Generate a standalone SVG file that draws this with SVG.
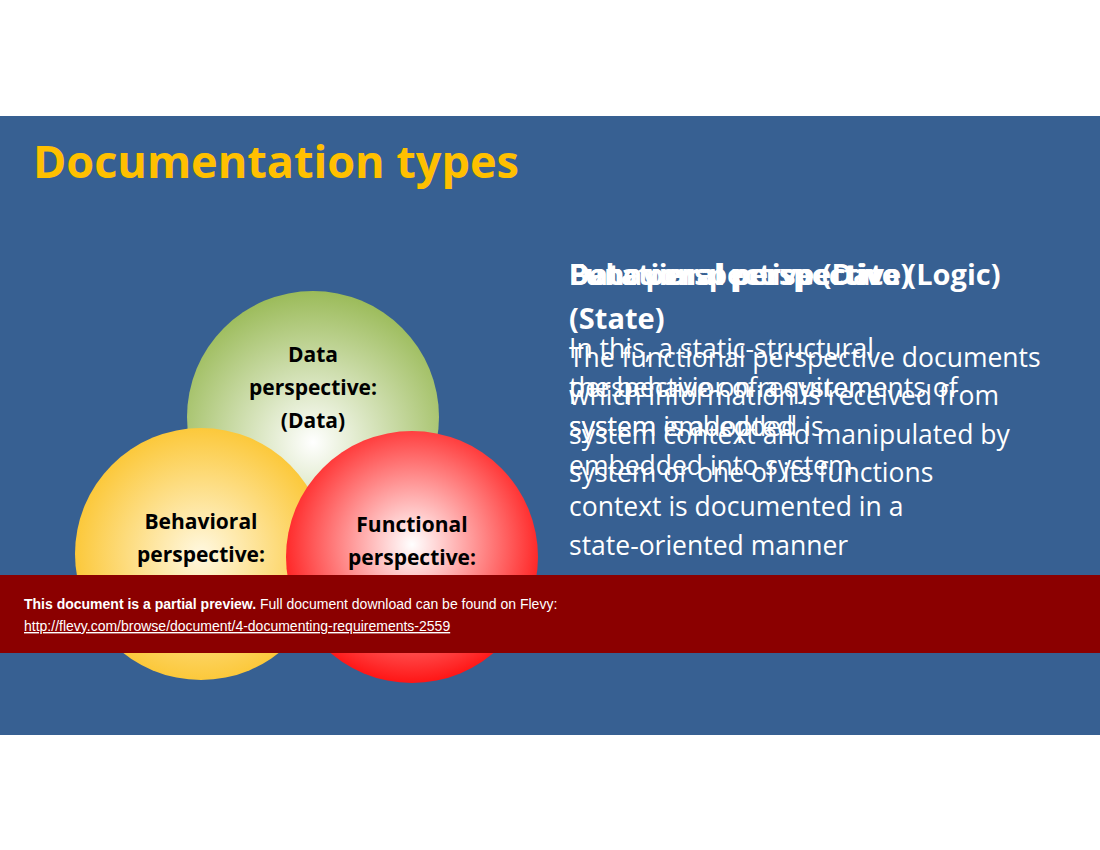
<svg xmlns="http://www.w3.org/2000/svg" width="1100" height="850" viewBox="0 0 1100 850">
<defs>
<radialGradient id="gG" cx="0.5" cy="0.6" r="0.6"><stop offset="0" stop-color="#ffffff"/><stop offset="1" stop-color="#9bbb59"/></radialGradient>
<radialGradient id="gY" cx="0.5" cy="0.5" r="0.6"><stop offset="0" stop-color="#fff8e0"/><stop offset="1" stop-color="#fbbf1a"/></radialGradient>
<radialGradient id="gR" cx="0.5" cy="0.45" r="0.6"><stop offset="0" stop-color="#ffffff"/><stop offset="1" stop-color="#ff0000"/></radialGradient>
<style>
.lbl{font-family:"Open Sans","Liberation Sans",sans-serif;font-weight:bold;font-size:21px;fill:#000;text-anchor:middle}
.h{font-family:"Open Sans","Liberation Sans",sans-serif;font-weight:bold;font-size:29px;fill:#fff}
.b{font-family:"Open Sans","Liberation Sans",sans-serif;font-size:26.5px;fill:#fff}
</style>
</defs>
<rect width="1100" height="850" fill="#fff"/>
<rect x="0" y="116" width="1100" height="619" fill="#376092"/>
<text x="33" y="178" font-family="Open Sans,Liberation Sans,sans-serif" font-weight="bold" font-size="45" fill="#ffc000">Documentation types</text>
<g id="data"><circle cx="313" cy="417" r="126" fill="url(#gG)"/><text class="lbl" x="313" y="362">Data</text><text class="lbl" x="313" y="395">perspective:</text><text class="lbl" x="313" y="428">(Data)</text></g>
<g id="behavioral"><circle cx="201" cy="554" r="126" fill="url(#gY)"/><text class="lbl" x="201" y="529">Behavioral</text><text class="lbl" x="201" y="562">perspective:</text></g>
<g id="functional"><circle cx="412" cy="557" r="126" fill="url(#gR)"/><text class="lbl" x="412" y="532">Functional</text><text class="lbl" x="412" y="565">perspective:</text></g>
<g id="connectors"/>
<g id="texts">
<text class="h" x="569" y="285">Data perspective (Data)</text>
<text class="h" x="569" y="285">Functional perspective (Logic)</text>
<text class="h" x="569" y="285">Behavioral perspective</text>
<text class="h" x="569" y="329">(State)</text>
<text class="b" x="569" y="358">In this, a static-structural</text>
<text class="b" x="569" y="397">perspective on requirements of</text>
<text class="b" x="569" y="436">system is adopted</text>
<text class="b" x="569" y="367">The functional perspective documents</text>
<text class="b" x="569" y="405">which information is received from</text>
<text class="b" x="569" y="444">system context and manipulated by</text>
<text class="b" x="569" y="482">system or one of its functions</text>
<text class="b" x="569" y="397">the behavior of a system</text>
<text class="b" x="569" y="436">system embedded is</text>
<text class="b" x="569" y="475">embedded into system</text>
<text class="b" x="569" y="516">context is documented in a</text>
<text class="b" x="569" y="555">state-oriented manner</text>
</g>
<rect x="0" y="575" width="1100" height="78" fill="#8b0000"/>
<text x="24" y="609" font-family="Liberation Sans,sans-serif" font-size="14" fill="#fff"><tspan font-weight="bold">This document is a partial preview.</tspan>  Full document download can be found on Flevy:</text>
<text x="24" y="631" font-family="Liberation Sans,sans-serif" font-size="14" fill="#fff" text-decoration="underline">http://flevy.com/browse/document/4-documenting-requirements-2559</text>
</svg>
